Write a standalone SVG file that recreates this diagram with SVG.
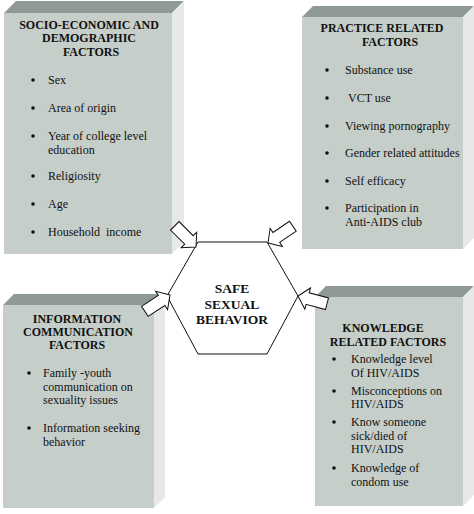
<svg xmlns="http://www.w3.org/2000/svg" width="474" height="514" viewBox="0 0 474 514">
<style>
.front{fill:#c5cec9}
.top{fill:#8f9a95}
.side{fill:#e6e9e7}
.h{font-family:"Liberation Serif","Times New Roman",serif;font-weight:bold;font-size:12px;fill:#111;text-anchor:middle}
.t{font-family:"Liberation Serif","Times New Roman",serif;font-size:12px;fill:#111}
.b{fill:#111}
.arrow{fill:#fff;stroke:#111;stroke-width:1}
.hex{fill:#fff;stroke:#111;stroke-width:1}
.c{font-family:"Liberation Serif","Times New Roman",serif;font-weight:bold;font-size:13.5px;fill:#111;text-anchor:middle}
</style>
<defs>
<path id="arr" d="M0,0 L-10,-11 L-10,-6 L-30,-6 L-30,6 L-10,6 L-10,11 Z"/>
</defs>
<rect width="474" height="514" fill="#fff"/>

<g id="socio">
<polygon class="top" points="4,13 16,1 184,1 172,13"/>
<polygon class="side" points="172,13 184,1 184,242 172,254"/>
<rect class="front" x="4" y="13" width="168" height="241"/>
<text class="h" x="89" y="28.5">SOCIO-ECONOMIC AND</text>
<text class="h" x="89" y="42">DEMOGRAPHIC</text>
<text class="h" x="91" y="55.5">FACTORS</text>
<circle class="b" cx="33" cy="80" r="1.8"/><text class="t" x="48" y="84">Sex</text>
<circle class="b" cx="33" cy="108" r="1.8"/><text class="t" x="48" y="112">Area of origin</text>
<circle class="b" cx="33" cy="136" r="1.8"/><text class="t" x="48" y="140">Year of college level</text>
<text class="t" x="48" y="153.5">education</text>
<circle class="b" cx="33" cy="176" r="1.8"/><text class="t" x="48" y="180">Religiosity</text>
<circle class="b" cx="33" cy="204" r="1.8"/><text class="t" x="48" y="208">Age</text>
<circle class="b" cx="33" cy="232" r="1.8"/><text class="t" x="48" y="236" xml:space="preserve">Household  income</text>
</g>

<g id="practice">
<polygon class="top" points="302,17 313,6 474,6 463,17"/>
<polygon class="side" points="463,17 474,6 474,238 463,249"/>
<rect class="front" x="302" y="17" width="161" height="232"/>
<text class="h" x="382" y="32">PRACTICE RELATED</text>
<text class="h" x="390" y="46">FACTORS</text>
<circle class="b" cx="327" cy="70" r="1.8"/><text class="t" x="345" y="74">Substance use</text>
<circle class="b" cx="327" cy="98" r="1.8"/><text class="t" x="348" y="102">VCT use</text>
<circle class="b" cx="327" cy="126" r="1.8"/><text class="t" x="345" y="130">Viewing pornography</text>
<circle class="b" cx="327" cy="153" r="1.8"/><text class="t" x="345" y="157">Gender related attitudes</text>
<circle class="b" cx="327" cy="181" r="1.8"/><text class="t" x="345" y="185">Self efficacy</text>
<circle class="b" cx="327" cy="208" r="1.8"/><text class="t" x="345" y="212">Participation in</text>
<text class="t" x="345" y="226">Anti-AIDS club</text>
</g>

<g id="information">
<polygon class="top" points="3,305 14,294 165,294 154,305"/>
<polygon class="side" points="154,305 165,294 165,497 154,508"/>
<rect class="front" x="3" y="305" width="151" height="203"/>
<text class="h" x="77" y="323">INFORMATION</text>
<text class="h" x="78" y="336">COMMUNICATION</text>
<text class="h" x="77" y="349">FACTORS</text>
<circle class="b" cx="29" cy="373" r="1.8"/><text class="t" x="43" y="377">Family -youth</text>
<text class="t" x="43" y="390.5">communication on</text>
<text class="t" x="43" y="404">sexuality issues</text>
<circle class="b" cx="29" cy="428" r="1.8"/><text class="t" x="43" y="432">Information seeking</text>
<text class="t" x="43" y="445.5">behavior</text>
</g>

<g id="knowledge">
<polygon class="top" points="315,297 326,286 474,286 463,297"/>
<polygon class="side" points="463,297 474,286 474,495 463,506"/>
<rect class="front" x="315" y="297" width="148" height="209"/>
<text class="h" x="383" y="332">KNOWLEDGE</text>
<text class="h" x="388" y="345.5">RELATED FACTORS</text>
<circle class="b" cx="334" cy="359" r="1.8"/><text class="t" x="351" y="363">Knowledge level</text>
<text class="t" x="351" y="376.5">Of HIV/AIDS</text>
<circle class="b" cx="334" cy="391" r="1.8"/><text class="t" x="351" y="395">Misconceptions on</text>
<text class="t" x="351" y="408">HIV/AIDS</text>
<circle class="b" cx="334" cy="422" r="1.8"/><text class="t" x="351" y="426">Know someone</text>
<text class="t" x="351" y="439.5">sick/died of</text>
<text class="t" x="351" y="453">HIV/AIDS</text>
<circle class="b" cx="334" cy="468" r="1.8"/><text class="t" x="351" y="472">Knowledge of</text>
<text class="t" x="351" y="485.5">condom use</text>
</g>

<g id="center">
<polygon class="hex" points="198,242 267,242 298,296 267,354 198,354 167,296"/>
<text class="c" x="232" y="293">SAFE</text>
<text class="c" x="232" y="308.5">SEXUAL</text>
<text class="c" x="232" y="324">BEHAVIOR</text>
</g>

<g id="connectors">
<use href="#arr" class="arrow" transform="translate(196,247) rotate(45)"/>
<use href="#arr" class="arrow" transform="translate(268,243) rotate(146)"/>
<use href="#arr" class="arrow" transform="translate(170,295) rotate(-33)"/>
<use href="#arr" class="arrow" transform="translate(298,296) rotate(195)"/>
</g>
</svg>
